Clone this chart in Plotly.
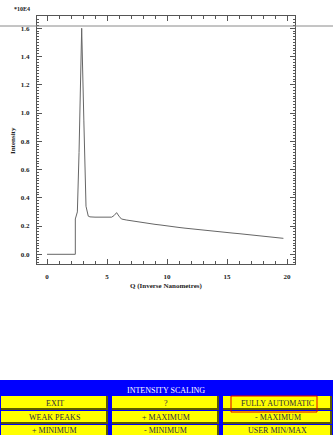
import plotly.graph_objects as go

# ---------------- data ----------------
q_nm = [0.0, 2.36, 2.36, 2.53, 2.67, 2.89, 3.07, 3.25, 3.44, 3.58, 4.0, 4.5, 5.0, 5.39,
        5.6, 5.8, 6.0, 6.2, 6.6, 7.0, 7.5, 8.0, 8.58, 9.0, 9.5, 10.0, 10.5, 11.0,
        11.5, 12.0, 12.75, 13.5, 14.0, 14.5, 15.0, 15.5, 16.0, 16.5, 17.0, 17.5,
        18.0, 18.5, 19.0, 19.7]
intensity = [0.0, 0.0, 0.25, 0.30, 0.72, 1.60, 0.95, 0.34, 0.27, 0.265, 0.263, 0.263, 0.263, 0.263,
             0.275, 0.295, 0.27, 0.25, 0.243, 0.237, 0.230, 0.224, 0.218, 0.212, 0.207, 0.200, 0.195, 0.190,
             0.185, 0.180, 0.173, 0.166, 0.162, 0.158, 0.154, 0.150, 0.146, 0.142, 0.138, 0.134,
             0.130, 0.125, 0.120, 0.113]

x_ticks = [0, 5, 10, 15, 20]
y_ticks = [0.0, 0.2, 0.4, 0.6, 0.8, 1.0, 1.2, 1.4, 1.6]

panel_title = "INTENSITY SCALING"
button_labels = [
    ["EXIT", "?", "FULLY AUTOMATIC"],
    ["WEAK PEAKS", "+ MAXIMUM", "- MAXIMUM"],
    ["+ MINIMUM", "- MINIMUM", "USER MIN/MAX"],
]
scale_label = "*10E4"
x_title = "Q (Inverse Nanometres)"
y_title = "Intensity"

# ---------------- layout geometry ----------------
W, H = 333, 435
L, R, T, B = 37, 295, 16, 264
PW, PH = R - L, B - T


def px(x):
    return (x - L) / PW


def py(y):
    return (B - y) / PH


FONT = "Liberation Serif"
AX = "#555555"
TXT = "#222222"

fig = go.Figure()
fig.add_trace(go.Scatter(x=q_nm, y=intensity, mode="lines",
                         line=dict(color="#666666", width=1), showlegend=False,
                         hoverinfo="skip"))

axis_common = dict(showgrid=False, zeroline=False, showline=True, linecolor=AX, linewidth=1,
                   mirror="allticks", ticks="inside", tickcolor=AX, tickwidth=1,
                   tickfont=dict(family=FONT, size=7, color=TXT))

fig.update_xaxes(range=[-0.833, 20.667], tickvals=x_ticks,
                 ticktext=[f"<b>{v}</b>" for v in x_ticks],
                 ticklen=5, minor=dict(dtick=1, tick0=0, ticks="inside", ticklen=3,
                                       tickcolor=AX, showgrid=False),
                 ticklabelstandoff=6, **axis_common)
fig.update_yaxes(range=[-0.0687, 1.687], tickvals=y_ticks,
                 ticktext=[f"<b>{v:.1f}</b>" for v in y_ticks],
                 ticklen=5, minor=dict(dtick=0.02, tick0=0, ticks="inside", ticklen=2,
                                       tickcolor=AX, showgrid=False),
                 ticklabelstandoff=5, **axis_common)

shapes = []
annotations = []

# separator line across the window
shapes.append(dict(type="line", xref="paper", yref="paper", x0=px(0), x1=px(W),
                   y0=py(26), y1=py(26), line=dict(color="#8a8a8a", width=1), layer="above"))

annotations.append(dict(xref="paper", yref="paper", x=px(12), y=py(9), text=f"<b>{scale_label}</b>",
                        showarrow=False, xanchor="left", yanchor="middle",
                        font=dict(family=FONT, size=6, color=TXT)))
annotations.append(dict(xref="paper", yref="paper", x=px(166), y=py(286), text=f"<b>{x_title}</b>",
                        showarrow=False, xanchor="center", yanchor="middle",
                        font=dict(family=FONT, size=7, color=TXT)))
annotations.append(dict(xref="paper", yref="paper", x=px(13), y=py(141), text=f"<b>{y_title}</b>",
                        showarrow=False, xanchor="center", yanchor="middle", textangle=-90,
                        font=dict(family=FONT, size=7, color=TXT)))

# bottom control panel
shapes.append(dict(type="rect", xref="paper", yref="paper", x0=px(0), x1=px(W),
                   y0=py(380), y1=py(H + 2), fillcolor="#0000FF", line=dict(width=0),
                   layer="above"))
annotations.append(dict(xref="paper", yref="paper", x=px(166), y=py(390), text=panel_title,
                        showarrow=False, xanchor="center", yanchor="middle",
                        font=dict(family=FONT, size=8, color="white")))

cols = [(1, 108), (112, 219), (223, 332)]
rows = [(396, 410), (411, 424), (425, 438)]
for r, (y0, y1) in enumerate(rows):
    for c, (x0, x1) in enumerate(cols):
        shapes.append(dict(type="rect", xref="paper", yref="paper", x0=px(x0), x1=px(x1),
                           y0=py(y0), y1=py(y1), fillcolor="#5a5a00", line=dict(width=0),
                           layer="above"))
        shapes.append(dict(type="rect", xref="paper", yref="paper", x0=px(x0), x1=px(x1 - 2),
                           y0=py(y0), y1=py(y1 - 2), fillcolor="#FFFF00", line=dict(width=0),
                           layer="above"))
        ty = (y0 + y1) / 2 if r < 2 else 430
        annotations.append(dict(xref="paper", yref="paper", x=px((x0 + x1) / 2),
                                y=py(ty), text=button_labels[r][c], showarrow=False,
                                xanchor="center", yanchor="middle",
                                font=dict(family=FONT, size=8, color="#2a2a40")))

# red highlight around the active button
shapes.append(dict(type="rect", xref="paper", yref="paper", x0=px(231), x1=px(317),
                   y0=py(396), y1=py(412), fillcolor="rgba(0,0,0,0)",
                   line=dict(color="#e00000", width=1), layer="above"))

fig.update_layout(width=W, height=H, margin=dict(l=L, r=W - R, t=T, b=H - B),
                  paper_bgcolor="white", plot_bgcolor="white",
                  shapes=shapes, annotations=annotations, showlegend=False)

fig.write_html("out.html")
